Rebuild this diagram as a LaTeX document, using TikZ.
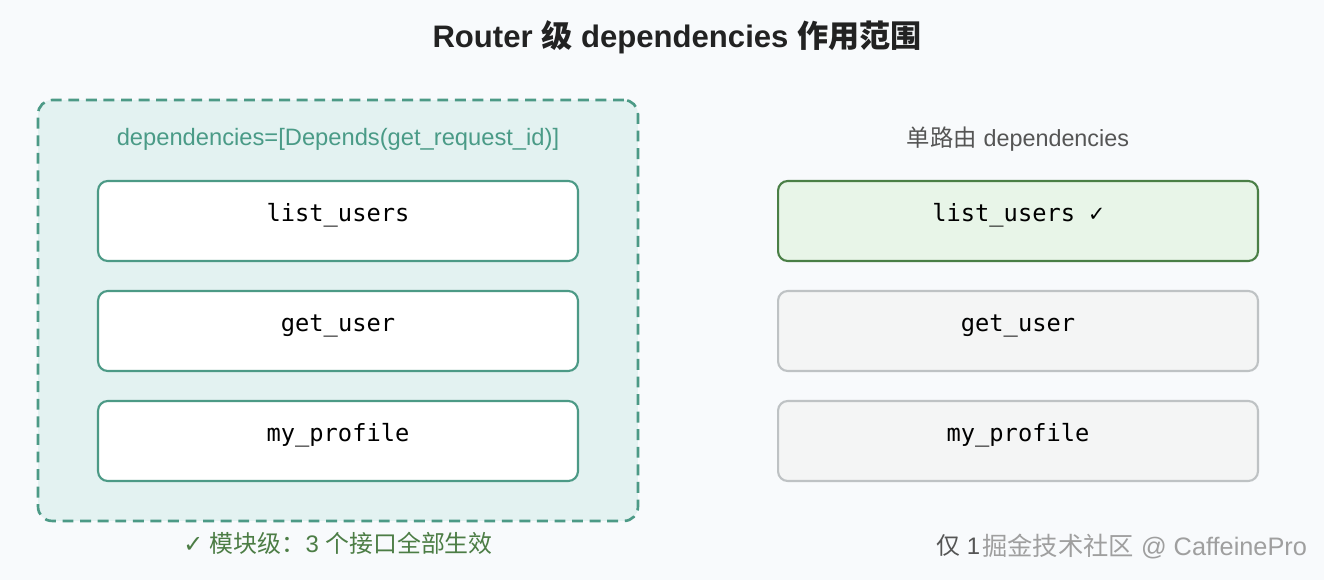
\documentclass[tikz,border=0pt]{standalone}
\usepackage{fontspec}
\setmainfont{Liberation Sans}
\setmonofont{DejaVu Sans Mono}
\newfontfamily\cjk{Noto Sans CJK SC}
\newfontfamily\symfont{DejaVu Sans}
\usetikzlibrary{positioning}

\definecolor{pagebg}{HTML}{F8FAFC}
\definecolor{tealline}{HTML}{4C9A86}
\definecolor{tealfill}{HTML}{E3F2F1}
\definecolor{tealtext}{HTML}{4A9B87}
\definecolor{okline}{HTML}{4A7F46}
\definecolor{okfill}{HTML}{E8F5E8}
\definecolor{oktext}{HTML}{4C7D45}
\definecolor{offline}{HTML}{BEC2C4}
\definecolor{offfill}{HTML}{F4F5F5}
\definecolor{captext}{HTML}{555555}
\definecolor{titletext}{HTML}{222222}

\tikzset{
  routebox/.style={draw, rounded corners=5.5pt, line width=1.2pt,
    minimum width=9.6cm, minimum height=1.6cm,
    text height=0.42cm, text depth=0.38cm,
    font=\ttfamily\fontsize{13.5}{16}\selectfont},
  teambox/.style={routebox, draw=tealline, fill=white},
  hitbox/.style={routebox, draw=okline, fill=okfill},
  missbox/.style={routebox, draw=offline, fill=offfill},
  caption/.style={font=\fontsize{13.3}{16}\selectfont}
}

\begin{document}
\begin{tikzpicture}[x=0.02cm, y=-0.02cm]
  \fill[pagebg] (0,0) rectangle (1324,580);
  \useasboundingbox (0,0) rectangle (1324,580);

  \node[text=titletext, font=\bfseries\fontsize{17.7}{21}\selectfont] (title) at (677,37)
    {Router {\cjk\bfseries 级} dependencies {\cjk\bfseries 作用范围}};

  % Left: router level, all routes covered
  \node[draw=tealline, fill=tealfill, line width=1.5pt, rounded corners=8pt,
    dash pattern=on 6.2pt off 3.8pt,
    minimum width=12cm, minimum height=8.42cm] (router) at (338,310.5) {};
  \node[caption, text=tealtext, font=\fontsize{13.5}{16}\selectfont] (routerdep) at (338,139)
    {dependencies=[Depends(get\_request\_id)]};

  \node[teambox] (lusers) at (338,221) {list\_users};
  \node[teambox] (guser) at (338,331) {get\_user};
  \node[teambox] (mprofile) at (338,441) {my\_profile};

  \node[caption, text=oktext, font=\fontsize{13.6}{16}\selectfont] (routerres) at (338,543)
    {{\symfont ✓} {\cjk 模块级：}3 {\cjk 个接口全部生效}};

  % Right: single route only
  \node[caption, text=captext] (singledep) at (1018,139)
    {{\cjk 单路由} dependencies};

  \node[hitbox] (slusers) at (1018,221) {list\_users ✓};
  \node[missbox] (sguser) at (1018,331) {get\_user};
  \node[missbox] (smprofile) at (1018,441) {my\_profile};

  \node[caption, text=captext, anchor=west, font=\fontsize{13.6}{16}\selectfont] (singleres) at (930,545)
    {{\cjk 仅} 1};
  \node[anchor=west, text=gray!75, font=\fontsize{14.4}{17}\selectfont] (mark) at (976,547)
    {{\cjk 掘金技术社区} @ CaffeinePro};
\end{tikzpicture}
\end{document}
